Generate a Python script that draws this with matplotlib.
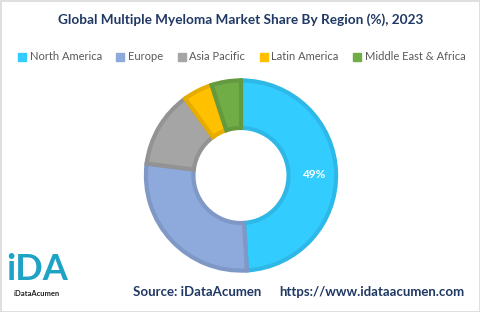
import matplotlib.pyplot as plt
from matplotlib.lines import Line2D
from matplotlib.patches import Rectangle

# data
regions = ["North America", "Europe", "Asia Pacific", "Latin America", "Middle East & Africa"]
shares = [49, 28, 13, 5, 5]
colors = ["#33CCFF", "#8EA9DB", "#A5A5A5", "#FFC000", "#70AD47"]
edge_colors = ["#2DB8E8", "#7F98C6", "#939393", "#E6AC00", "#63993F"]

plt.rcParams["font.family"] = ["Lato", "DejaVu Sans"]

W, H = 481, 312
fig = plt.figure(figsize=(W / 100, H / 100), dpi=100)
fig.patch.set_facecolor("white")

# light frame round the picture
fig.add_artist(Rectangle((0.5 / W, 0.5 / H), 1 - 1.5 / W, 1 - 1.5 / H, transform=fig.transFigure,
                         fill=False, edgecolor="#D9D9D9", linewidth=1.2))

# donut axes: centre (241, 175.5) px, radius 97 px
cx, cy, r = 241, 175.5, 97
ax = fig.add_axes([(cx - r) / W, (H - cy - r) / H, 2 * r / W, 2 * r / H])
wedges, _ = ax.pie(shares, colors=colors, startangle=90, counterclock=False,
                   wedgeprops=dict(width=0.5, linewidth=3))
for w, ec in zip(wedges, edge_colors):
    w.set_edgecolor(ec)
ax.set_xlim(-1.02, 1.02)
ax.set_ylim(-1.02, 1.02)
ax.set_aspect("equal")
ax.axis("off")

# label on the biggest slice
ax.text(0.76, 0.01, f"{shares[0]}%", color="white", fontsize=8.5, fontweight="bold",
        ha="center", va="center")

fig.text(0.5, 1 - 20 / H, "Global Multiple Myeloma Market Share By Region (%), 2023",
         ha="center", va="center", fontsize=9.8, fontweight="bold", color="#1F3864")

handles = [Line2D([], [], marker="s", linestyle="none", markersize=5.5, color=c) for c in colors]
fig.legend(handles, regions, loc="center", bbox_to_anchor=(0.503, 1 - 57 / H), ncol=5,
           frameon=False, fontsize=8, labelcolor="#595959", handletextpad=0.35,
           columnspacing=1.3, handlelength=0.7)

# logo
fig.text(37 / W, 1 - 270 / H, "iDA", ha="center", va="center", fontsize=26,
         fontweight="bold", color="#1FA3C4")
fig.text(37 / W, 1 - 294 / H, "iDataAcumen", ha="center", va="center", fontsize=5.5,
         fontweight="bold", color="#222222")

fig.text(197 / W, 1 - 292 / H, "Source: iDataAcumen", ha="center", va="center",
         fontsize=9.5, fontweight="bold", color="#1F3864")
fig.text(372 / W, 1 - 292 / H, "https://www.idataacumen.com", ha="center", va="center",
         fontsize=9.5, fontweight="bold", color="#1F3864")

fig.savefig("out.png", dpi=100, facecolor="white")
